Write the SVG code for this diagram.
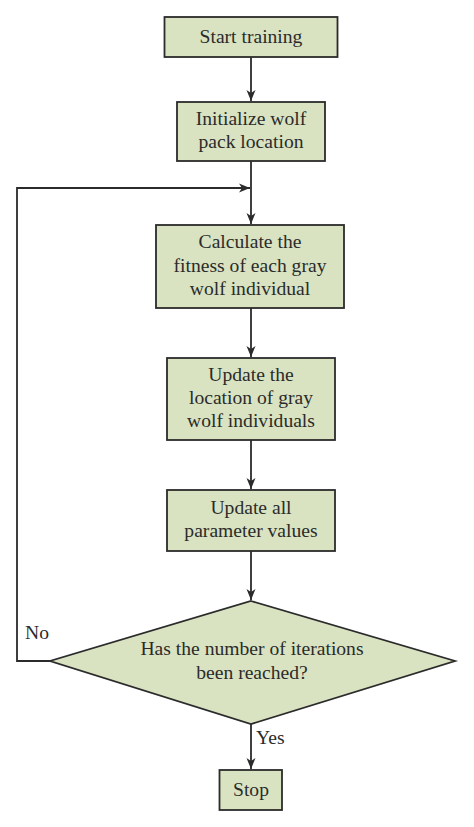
<svg xmlns="http://www.w3.org/2000/svg" width="474" height="827" viewBox="0 0 474 827">
<style>
.n{fill:#d9e3c1;stroke:#2b2b2b;stroke-width:1.8}
.t{font-family:"Liberation Serif","Times New Roman",serif;font-size:19.6px;fill:#2b2b2b;text-anchor:middle}
.l{font-family:"Liberation Serif","Times New Roman",serif;font-size:19.6px;fill:#2b2b2b}
.c{fill:none;stroke:#2b2b2b;stroke-width:1.8}
</style>
<defs>
<marker id="ah" markerUnits="userSpaceOnUse" markerWidth="12" markerHeight="12" viewBox="0 0 12 12" refX="11" refY="6" orient="auto">
<path d="M0,1.5 L11,6 L0,10.5 L3,6 Z" fill="#2b2b2b"/>
</marker>
</defs>
<rect width="474" height="827" fill="#ffffff"/>
<g id="connectors">
<line class="c" x1="251" y1="57" x2="251" y2="101" marker-end="url(#ah)"/>
<line class="c" x1="251" y1="161" x2="251" y2="224" marker-end="url(#ah)"/>
<polyline class="c" points="50,661 17,661 17,188 250,188" marker-end="url(#ah)"/>
<line class="c" x1="251" y1="308" x2="251" y2="357" marker-end="url(#ah)"/>
<line class="c" x1="251" y1="440" x2="251" y2="489" marker-end="url(#ah)"/>
<line class="c" x1="251" y1="551" x2="251" y2="600" marker-end="url(#ah)"/>
<line class="c" x1="251" y1="724" x2="251" y2="769" marker-end="url(#ah)"/>
<text class="l" x="25" y="639">No</text>
<text class="l" x="256" y="744">Yes</text>
</g>
<g id="start">
<rect class="n" x="164.5" y="17" width="173" height="40"/>
<text class="t" x="251" y="43">Start training</text>
</g>
<g id="init">
<rect class="n" x="177" y="102" width="148" height="59"/>
<text class="t" x="251" y="125">Initialize wolf</text>
<text class="t" x="251" y="148">pack location</text>
</g>
<g id="fitness">
<rect class="n" x="156" y="225" width="188" height="83"/>
<text class="t" x="250" y="248">Calculate the</text>
<text class="t" x="250" y="272">fitness of each gray</text>
<text class="t" x="250" y="295">wolf individual</text>
</g>
<g id="update-location">
<rect class="n" x="167" y="358" width="168" height="82"/>
<text class="t" x="251" y="381">Update the</text>
<text class="t" x="251" y="404">location of gray</text>
<text class="t" x="251" y="427">wolf individuals</text>
</g>
<g id="update-params">
<rect class="n" x="167" y="490" width="168" height="61"/>
<text class="t" x="251" y="514">Update all</text>
<text class="t" x="251" y="537">parameter values</text>
</g>
<g id="decision">
<polygon class="n" points="251,601 455,661 251,724 50,661"/>
<text class="t" x="252" y="655">Has the number of iterations</text>
<text class="t" x="252" y="679">been reached?</text>
</g>
<g id="stop">
<rect class="n" x="219.5" y="770" width="62.5" height="40"/>
<text class="t" x="251" y="796">Stop</text>
</g>
</svg>
